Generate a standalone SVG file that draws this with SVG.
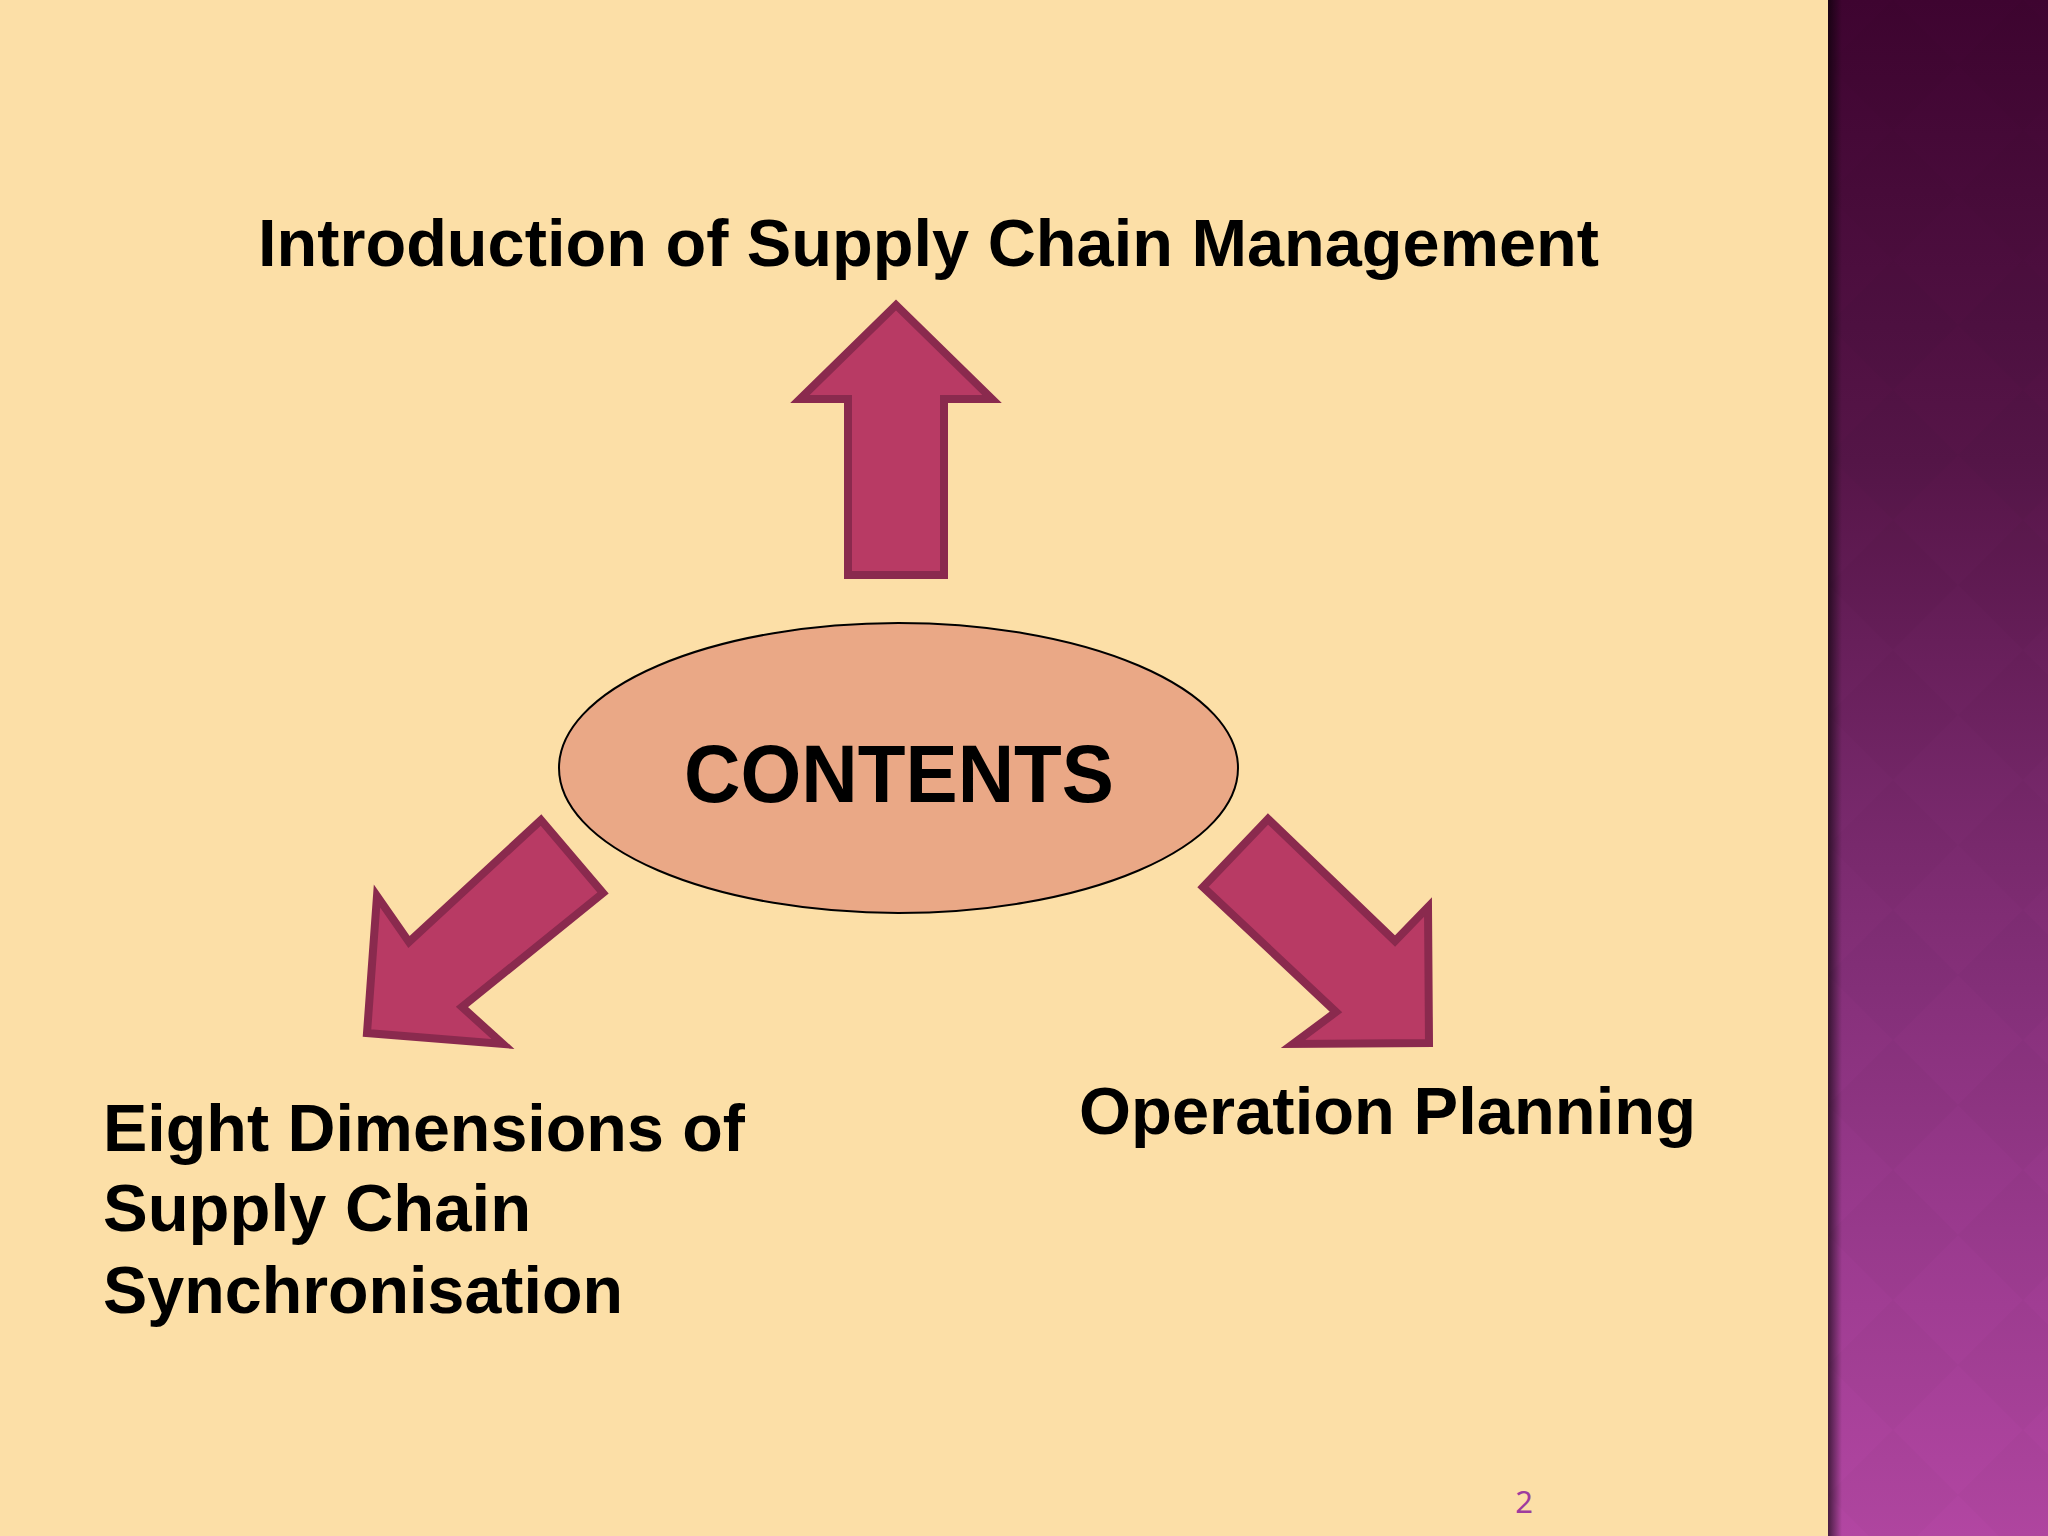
<svg xmlns="http://www.w3.org/2000/svg" width="2048" height="1536" viewBox="0 0 2048 1536">
  <defs>
    <linearGradient id="barGrad" x1="0" y1="0" x2="0" y2="1">
      <stop offset="0" stop-color="#3E0430"/>
      <stop offset="0.3" stop-color="#561548"/>
      <stop offset="0.55" stop-color="#7A2A6E"/>
      <stop offset="0.8" stop-color="#9A3A8E"/>
      <stop offset="1" stop-color="#B246A2"/>
    </linearGradient>
    <linearGradient id="barShadow" x1="0" y1="0" x2="1" y2="0">
      <stop offset="0" stop-color="#000" stop-opacity="0.6"/>
      <stop offset="1" stop-color="#000" stop-opacity="0"/>
    </linearGradient>
    <pattern id="diamonds" width="130" height="130" patternUnits="userSpaceOnUse" x="1828" y="0">
      <path d="M65,0 L130,65 L65,130 L0,65 Z" fill="#000" fill-opacity="0.018"/>
    </pattern>
    <style>
      .arrow { fill: #B83A64; stroke: #8A2A4E; stroke-width: 8; stroke-linejoin: miter; }
      .label { font-family: "Liberation Sans", Arial, sans-serif; font-weight: bold; fill: #000; font-size: 67px; }
    </style>
  </defs>

  <rect x="0" y="0" width="2048" height="1536" fill="#FCDFA7"/>

  <g id="side-bar">
    <rect x="1828" y="0" width="220" height="1536" fill="url(#barGrad)"/>
    <rect x="1828" y="0" width="220" height="1536" fill="url(#diamonds)"/>
    <rect x="1828" y="0" width="14" height="1536" fill="url(#barShadow)"/>
  </g>

  <g id="connectors">
    <path class="arrow" d="M896,305 L992,399 L944,399 L944,575 L848,575 L848,399 L800,399 Z"/>
    <path class="arrow" d="M541,820 L603,893 L462,1007 L503,1044 L367,1033 L377,896 L409,942 Z"/>
    <path class="arrow" d="M1268,819 L1203,887 L1336,1012 L1293,1044 L1429,1043 L1428,907 L1395,941 Z"/>
  </g>

  <g id="node-contents">
    <ellipse cx="898.5" cy="768" rx="339.5" ry="145" fill="#EAA886" stroke="#000" stroke-width="2"/>
    <text x="899" y="802" text-anchor="middle" font-family="Liberation Sans, Arial, sans-serif" font-weight="bold" font-size="82" textLength="430" lengthAdjust="spacingAndGlyphs" fill="#000">CONTENTS</text>
  </g>

  <g id="node-intro">
    <text class="label" x="258" y="266" textLength="1341" lengthAdjust="spacingAndGlyphs">Introduction of Supply Chain Management</text>
  </g>

  <g id="node-eight">
    <text class="label" x="103" y="1151" textLength="642" lengthAdjust="spacingAndGlyphs">Eight Dimensions of</text>
    <text class="label" x="103" y="1231">Supply Chain</text>
    <text class="label" x="103" y="1313" textLength="520" lengthAdjust="spacingAndGlyphs">Synchronisation</text>
  </g>

  <g id="node-operation">
    <text class="label" x="1079" y="1134" textLength="617" lengthAdjust="spacingAndGlyphs">Operation Planning</text>
  </g>

  <g id="page-number">
    <text x="1524" y="1513" text-anchor="middle" font-family="Noto Sans, Open Sans, sans-serif" font-size="31" fill="#9E3C9E">2</text>
  </g>
</svg>
